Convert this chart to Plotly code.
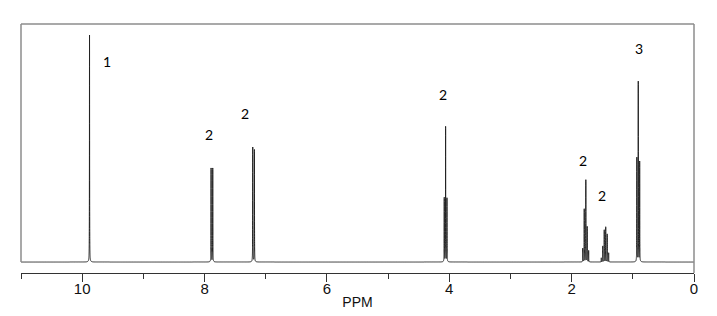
import numpy as np
import plotly.graph_objects as go

# ---- Data (chemical shift in ppm, relative intensity) ----
line_ppm = [9.880,
            7.893, 7.866,
            7.212, 7.185,
            4.082, 4.060, 4.038,
            1.818, 1.794, 1.768, 1.746, 1.722,
            1.515, 1.491, 1.467, 1.443, 1.419, 1.395,
            0.934, 0.911, 0.888]
line_height = [100.0,
               41.3, 41.3,
               50.5, 49.4,
               28.2, 59.5, 28.0,
               6.0, 23.3, 36.1, 15.5, 5.0,
               1.8, 7.0, 14.1, 15.4, 12.3, 4.0,
               45.8, 79.3, 44.1]
linewidth_ppm = 0.0015

label_text = ["1", "2", "2", "2", "2", "2", "3"]
label_ppm = [9.60, 7.93, 7.34, 4.11, 1.82, 1.50, 0.90]
label_int = [88.3, 56.3, 65.6, 74.0, 44.5, 29.5, 94.2]

major_ticks = [0, 2, 4, 6, 8, 10]
minor_ticks = [1, 3, 5, 7, 9, 11]

# ---- Build spectrum trace from the line list ----
grid = [np.linspace(0, 11, 11001)]
for c in line_ppm:
    grid.append(np.linspace(c - 0.012, c + 0.012, 121))
    grid.append(np.array([c]))
x = np.unique(np.concatenate(grid))
y = np.zeros_like(x)
for c, h in zip(line_ppm, line_height):
    y += h * linewidth_ppm**2 / ((x - c) ** 2 + linewidth_ppm**2)

fig = go.Figure()
fig.add_trace(go.Scatter(x=x, y=y, mode="lines",
                         line=dict(color="#222222", width=1, simplify=False),
                         hoverinfo="skip", showlegend=False))

ymin, ymax = -4.846, 104.85
base_frac = (0 - ymin) / (ymax - ymin)

shapes = [
    dict(type="line", xref="paper", yref="paper", x0=0, x1=1, y0=1, y1=1,
         line=dict(color="#8c8c8c", width=1.5)),
    dict(type="line", xref="paper", yref="paper", x0=0, x1=0, y0=base_frac, y1=1,
         line=dict(color="#8c8c8c", width=1.5)),
    dict(type="line", xref="paper", yref="paper", x0=1, x1=1, y0=0, y1=1,
         line=dict(color="#8c8c8c", width=1.5)),
]

annotations = [dict(x=px, y=py, text=t, showarrow=False, xref="x", yref="y",
                    xanchor="center", yanchor="middle",
                    font=dict(family="Lato, Open Sans, sans-serif", size=14, color="#000"))
               for t, px, py in zip(label_text, label_ppm, label_int)]

fig.update_layout(
    width=717, height=316,
    margin=dict(l=21, r=23, t=24, b=43, autoexpand=False),
    paper_bgcolor="white", plot_bgcolor="white",
    shapes=shapes, annotations=annotations,
    xaxis=dict(range=[11, 0], showgrid=False, zeroline=False, automargin=False,
               showline=True, linecolor="#333", linewidth=1,
               ticks="outside", ticklen=8, tickwidth=1, tickcolor="#333",
               ticklabelstandoff=-6,
               tickvals=major_ticks, ticktext=[str(v) for v in major_ticks],
               tickfont=dict(family="Liberation Sans Narrow, Liberation Sans, Arial", size=15, color="#111"),
               minor=dict(tickvals=minor_ticks, ticks="outside", ticklen=5, tickcolor="#333", showgrid=False),
               title=dict(text="PPM", standoff=1,
                          font=dict(family="Liberation Sans, Arial", size=14, color="#111"))),
    yaxis=dict(range=[ymin, ymax], visible=False, showgrid=False, zeroline=False, automargin=False),
)

fig.write_html("out.html")
